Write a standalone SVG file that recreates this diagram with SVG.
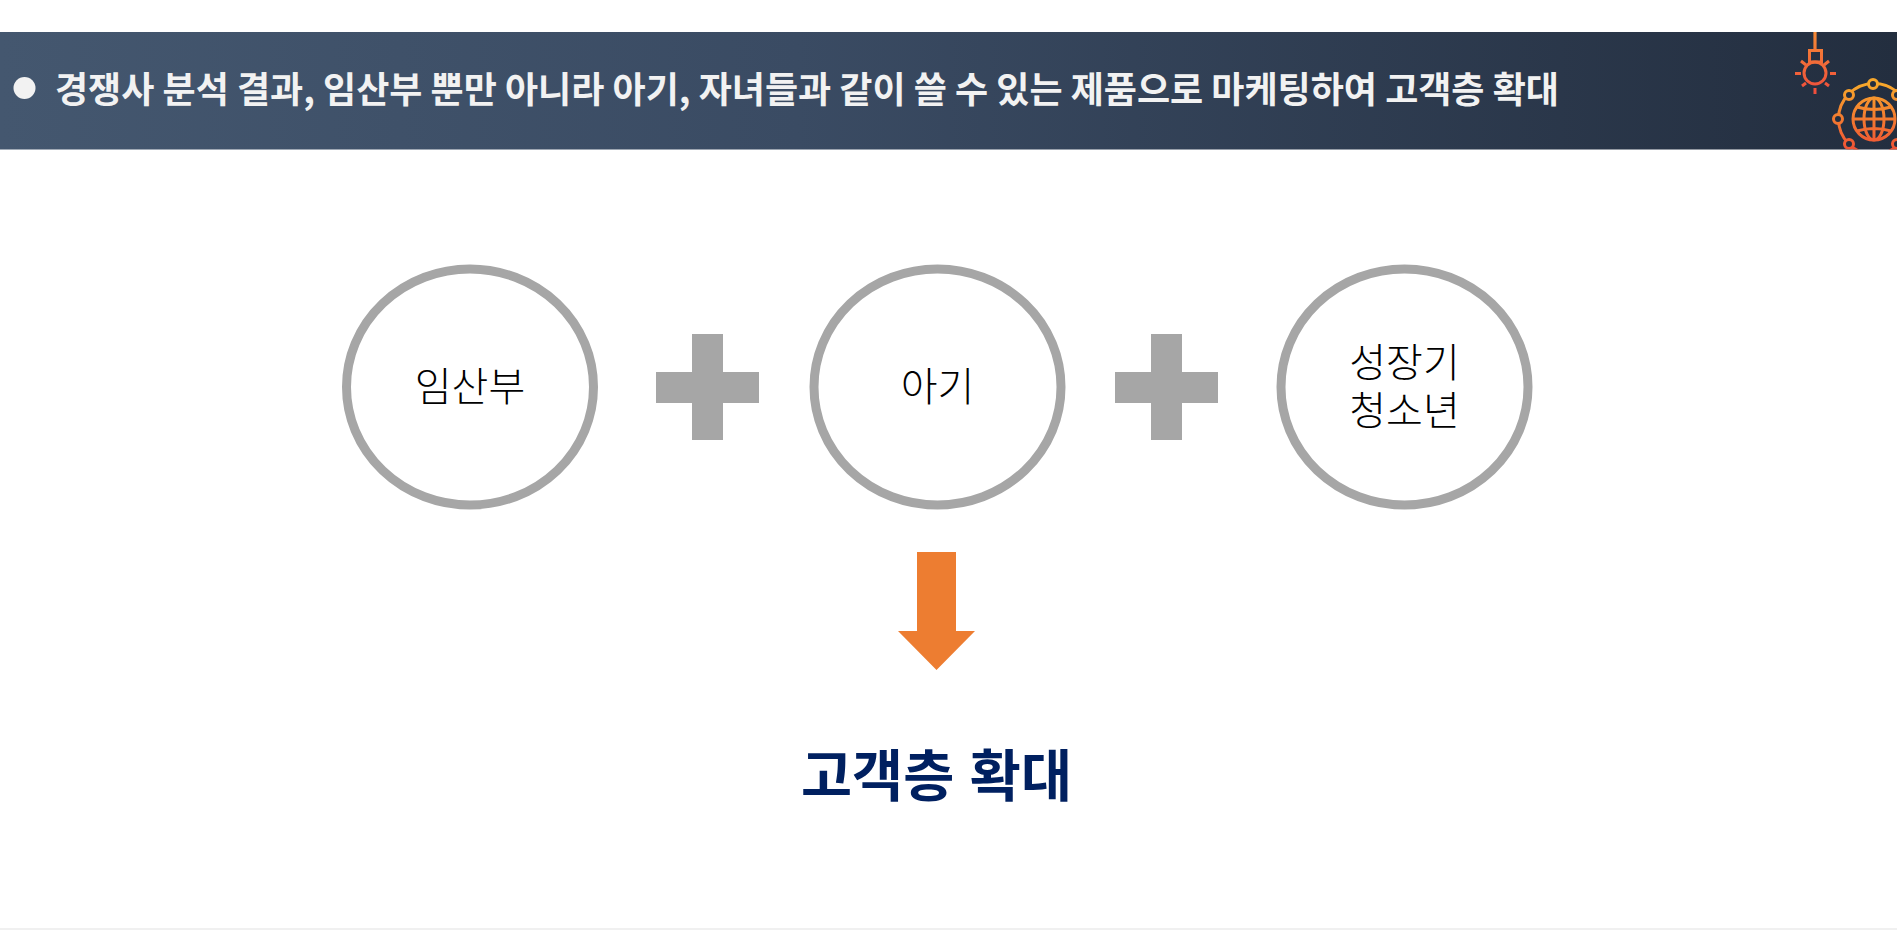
<svg xmlns="http://www.w3.org/2000/svg" width="1897" height="930" viewBox="0 0 1897 930">
<style>
text{font-family:"Noto Sans CJK KR","Noto Sans",sans-serif}
.ring{fill:#fff;stroke:#a6a6a6;stroke-width:9}
.lab{font-size:40px;font-weight:300;fill:#000;text-anchor:middle}
.plus{fill:#a6a6a6}
.ic{fill:none;stroke:url(#ig);stroke-width:3}
</style>
<defs>
<linearGradient id="band" x1="0" x2="1" y1="0" y2="0"><stop offset="0" stop-color="#44576f"/><stop offset="0.42" stop-color="#3a4b63"/><stop offset="1" stop-color="#232e3f"/></linearGradient>
<linearGradient id="ig" gradientUnits="userSpaceOnUse" x1="0" y1="84" x2="0" y2="150"><stop offset="0" stop-color="#f7a72b"/><stop offset="1" stop-color="#ef5135"/></linearGradient>
<linearGradient id="ib" gradientUnits="userSpaceOnUse" x1="0" y1="32" x2="0" y2="92"><stop offset="0" stop-color="#f58a35"/><stop offset="1" stop-color="#ef4e3c"/></linearGradient>
<clipPath id="bc"><rect x="0" y="32" width="1897" height="117.5"/></clipPath>
</defs>
<g id="header">
<rect x="0" y="32" width="1897" height="117.5" fill="url(#band)"/>
<circle cx="24.500" cy="88" r="11" fill="#f2f2f2"/>
<text x="55" y="102.500" font-size="36" font-weight="700" fill="#f2f2f2">경쟁사 분석 결과, 임산부 뿐만 아니라 아기, 자녀들과 같이 쓸 수 있는 제품으로 마케팅하여 고객층 확대</text>
</g>
<g id="icon-bulb" fill="none" stroke="url(#ib)" stroke-width="3">
<path d="M1815 32V50" stroke-width="3.2"/>
<rect x="1809.5" y="50.500" width="12" height="11.500"/>
<circle cx="1815" cy="73" r="11"/>
<path d="M1795 73.500h6M1830 73.500h6M1815 88v6M1801 61l5 4M1829 61l-5 4M1802 86l4-3M1829 86l-4-3"/>
</g>
<g id="icon-globe" clip-path="url(#bc)" class="ic">
<circle cx="1874" cy="119" r="35.500"/>
<circle cx="1874" cy="119" r="21" fill="#232e3f"/>
<ellipse cx="1874" cy="119" rx="10" ry="21"/>
<path d="M1874 98V140M1853 119H1895M1857 107q17 5 34 0M1857 131q17-5 34 0"/>
<circle cx="1873" cy="84" r="4.500" fill="#232e3f"/>
<circle cx="1849" cy="95" r="4.500" fill="#232e3f"/>
<circle cx="1838" cy="119" r="4.500" fill="#232e3f"/>
<circle cx="1849" cy="144" r="4.500" fill="#232e3f"/>
<circle cx="1897" cy="95" r="4.500" fill="#232e3f"/>
<circle cx="1897" cy="144" r="4.500" fill="#232e3f"/>
</g>
<g id="node-1"><ellipse class="ring" cx="470" cy="387" rx="123.500" ry="118"/><text class="lab" x="470" y="400.500">임산부</text></g>
<g id="plus-1"><path class="plus" d="M692 334H723V372H759V403H723V440H692V403H656V372H692Z"/></g>
<g id="node-2"><ellipse class="ring" cx="937.500" cy="387" rx="123.500" ry="118"/><text class="lab" x="937.500" y="400.500">아기</text></g>
<g id="plus-2"><path class="plus" d="M1151 334H1182V372H1218V403H1182V440H1151V403H1115V372H1151Z"/></g>
<g id="node-3"><ellipse class="ring" cx="1404.500" cy="387" rx="123.500" ry="118"/><text class="lab"><tspan x="1404.500" y="377">성장기</tspan><tspan x="1404.500" y="424.500">청소년</tspan></text></g>
<g id="connectors"><path d="M917 552H956V631H975L936.500 670L898 631H917Z" fill="#ed7d31"/></g>
<g id="result"><text x="936.500" y="796" font-size="55.500" font-weight="700" fill="#002060" text-anchor="middle" word-spacing="3">고객층 확대</text></g>
<rect x="0" y="928" width="1897" height="2" fill="#f0f0f0"/>
</svg>
